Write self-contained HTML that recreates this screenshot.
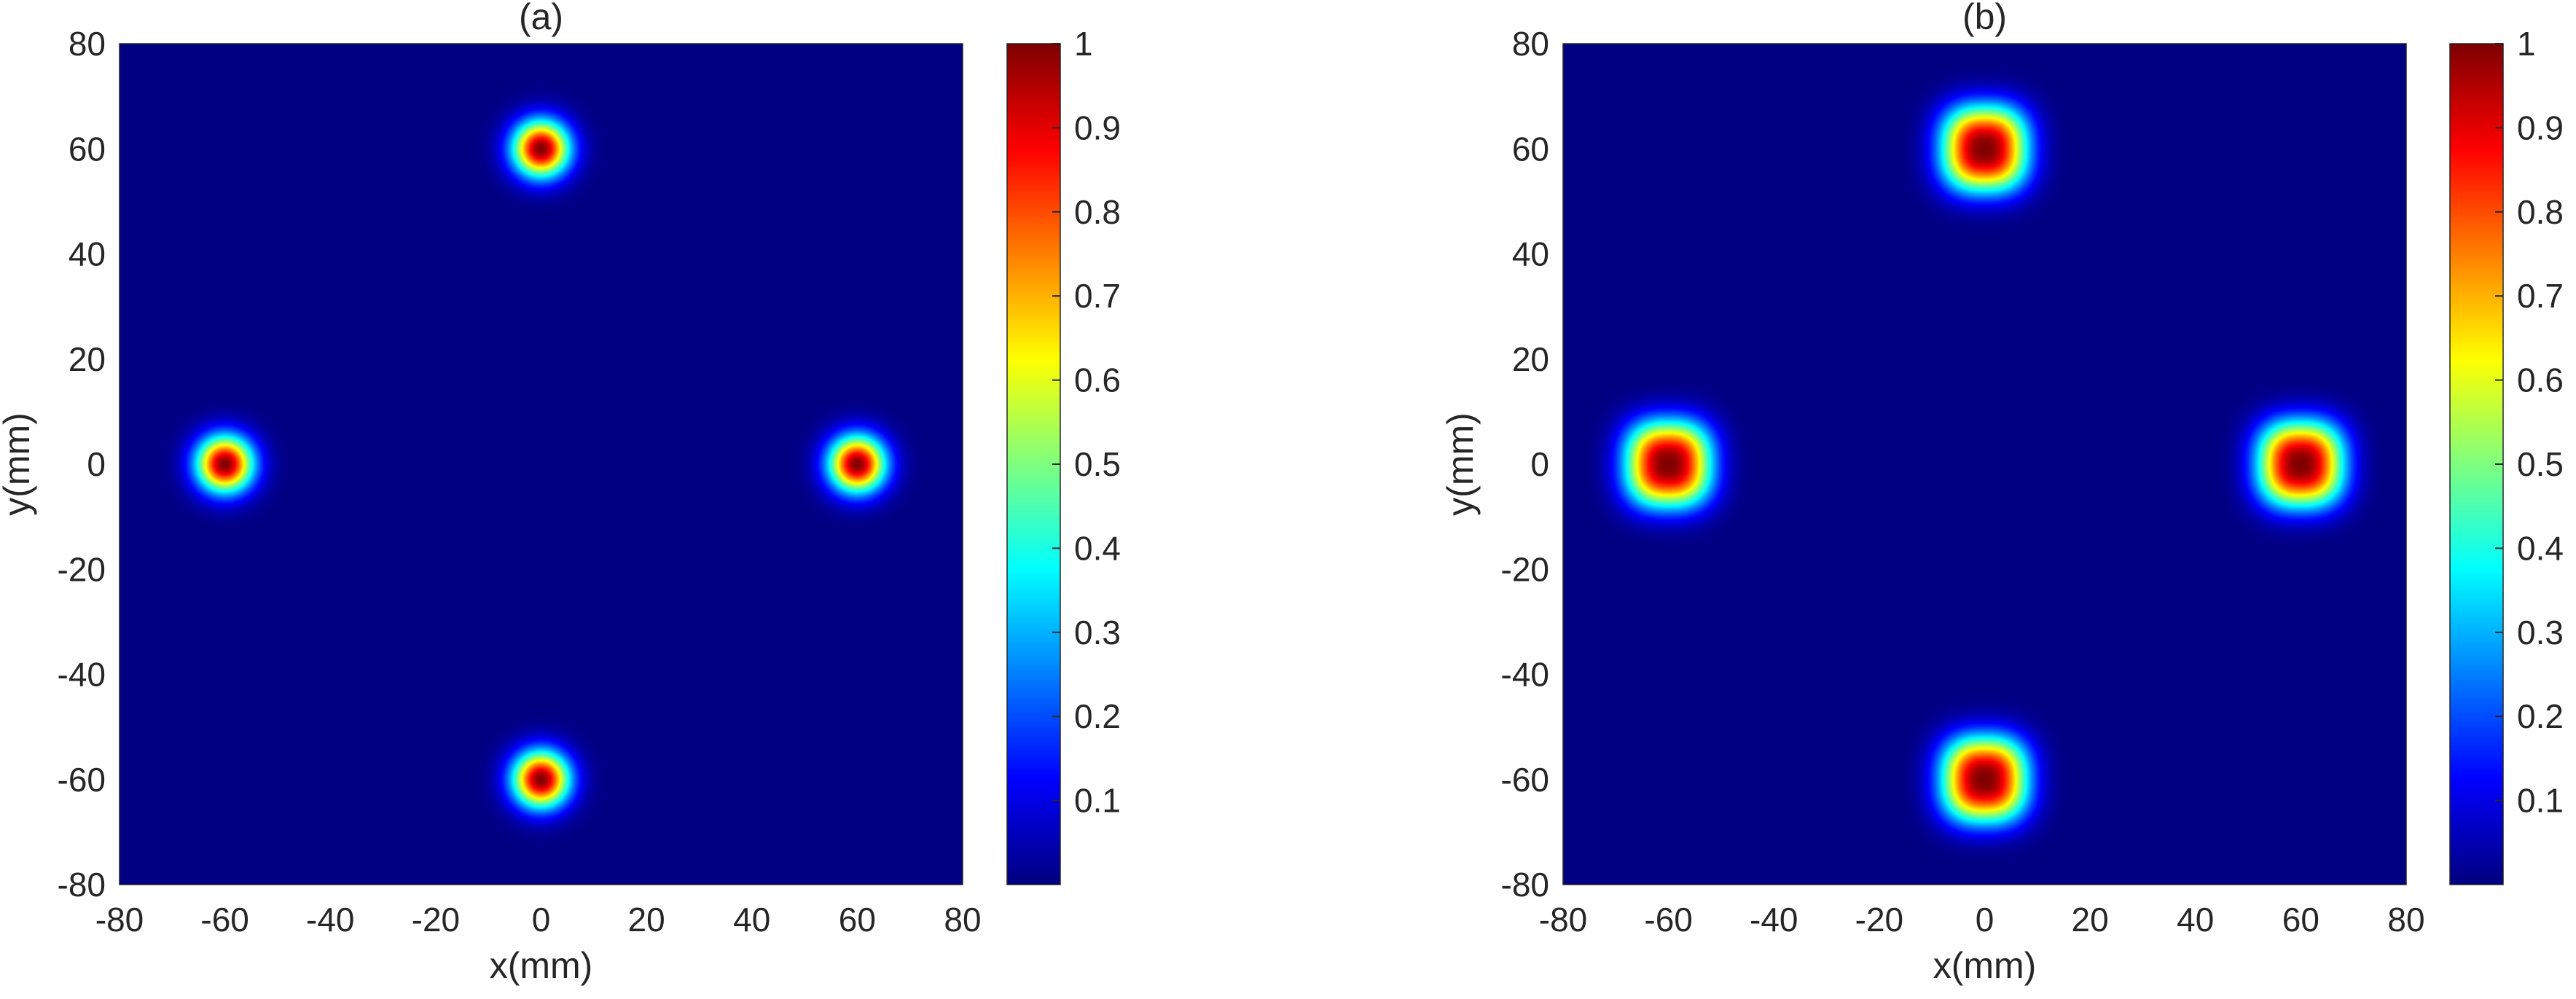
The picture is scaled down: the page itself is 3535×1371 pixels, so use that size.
<!DOCTYPE html>
<html><head><meta charset="utf-8"><style>
html,body{margin:0;padding:0;background:#fff;}
#wrap{position:relative;width:3535px;height:1371px;overflow:hidden;font-family:"Liberation Sans",Arial,sans-serif;}
canvas{position:absolute;}
svg{position:absolute;left:0;top:0;}
text{fill:#262626;font-family:"Liberation Sans",Arial,sans-serif;}
</style></head><body>
<div id="wrap">
<canvas id="ca" width="1157" height="1154" style="left:164px;top:60px"></canvas>
<canvas id="cb" width="1157" height="1154" style="left:2145px;top:60px"></canvas>
<canvas id="cba" width="73" height="1154" style="left:1382px;top:60px"></canvas>
<canvas id="cbb" width="73" height="1154" style="left:3362px;top:60px"></canvas>
<svg id="svg" width="3535" height="1371"></svg>
</div>
<script>
// data
const spotX = [0, -60, 60, 0];
const spotY = [60, 0, 0, -60];
const widthA = 5.3;      // gaussian width (mm) panel a
const widthB = 8.0;      // super-gaussian width (mm) panel b
const orderB = 2.5;
const axisTicks = [-80,-60,-40,-20,0,20,40,60,80];
const cbTicks = [0.1,0.2,0.3,0.4,0.5,0.6,0.7,0.8,0.9,1];
const cbTickLabels = ["0.1","0.2","0.3","0.4","0.5","0.6","0.7","0.8","0.9","1"];

const PW=1157, PH=1154, TOP=60, BOT=1214;
const panels=[{id:'ca',left:164,cb:'cba',cbl:1382,title:'(a)'},{id:'cb',left:2145,cb:'cbb',cbl:3362,title:'(b)'}];

function jet(v){
  v=Math.max(0,Math.min(1,v));
  const r=Math.max(0,Math.min(1,1.5-Math.abs(4*v-3)));
  const g=Math.max(0,Math.min(1,1.5-Math.abs(4*v-2)));
  const b=Math.max(0,Math.min(1,1.5-Math.abs(4*v-1)));
  return [r*255,g*255,b*255];
}
function fA(x,y){let s=0;for(let i=0;i<spotX.length;i++){const dx=x-spotX[i],dy=y-spotY[i];s+=Math.exp(-(dx*dx+dy*dy)/(widthA*widthA));}return s;}
function fB(x,y){let s=0;for(let i=0;i<spotX.length;i++){const dx=Math.abs(x-spotX[i])/widthB,dy=Math.abs(y-spotY[i])/widthB;s+=Math.exp(-(Math.pow(dx,orderB)+Math.pow(dy,orderB)));}return s;}
function xs(v,left){return left+(v+80)/160*PW;}
function ys(v){return TOP+(80-v)/160*PH;}

[['ca',fA],['cb',fB]].forEach(([id,f])=>{
  const c=document.getElementById(id),ctx=c.getContext('2d');
  const im=ctx.createImageData(PW,PH);
  for(let j=0;j<PH;j++){const y=80-(j+0.5)/PH*160;
    for(let i=0;i<PW;i++){const x=-80+(i+0.5)/PW*160;
      const col=jet(f(x,y));const k=(j*PW+i)*4;
      im.data[k]=col[0];im.data[k+1]=col[1];im.data[k+2]=col[2];im.data[k+3]=255;}}
  ctx.putImageData(im,0,0);
});
['cba','cbb'].forEach(id=>{
  const c=document.getElementById(id),ctx=c.getContext('2d');
  for(let j=0;j<PH;j++){const col=jet(1-(j+0.5)/PH);ctx.fillStyle=`rgb(${col[0]|0},${col[1]|0},${col[2]|0})`;ctx.fillRect(0,j,73,1);}
});

const svg=document.getElementById('svg');const NS='http://www.w3.org/2000/svg';
function mk(tag,attrs,txt){const e=document.createElementNS(NS,tag);for(const k in attrs)e.setAttribute(k,attrs[k]);if(txt!==undefined)e.textContent=txt;svg.appendChild(e);return e;}
panels.forEach((p,pi)=>{
  const fr=mk('rect',{x:p.left,y:TOP,width:PW,height:PH,fill:'none',stroke:'#262626','stroke-width':1.5});
  
  
  axisTicks.forEach(t=>{
    const tx=mk('text',{x:xs(t,p.left),y:1278,'font-size':46,'text-anchor':'middle'},String(t));
    
    
    const ty=mk('text',{x:p.left-19,y:ys(t)+16,'font-size':46,'text-anchor':'end'},String(t));
    
    
  });
  const xt=mk('text',{x:p.left+PW/2,y:1342,'font-size':50,'text-anchor':'middle'},'x(mm)');
  
  
  const yx=p.left-124, yy=(TOP+BOT)/2;
  const yt=mk('text',{x:yx,y:yy,'font-size':50,'text-anchor':'middle',transform:`rotate(-90 ${yx} ${yy})`},'y(mm)');
  
  
  const tt=mk('text',{x:p.left+PW/2,y:40,'font-size':50,'text-anchor':'middle'},p.title);
  
  
  const cf=mk('rect',{x:p.cbl,y:TOP,width:73,height:PH,fill:'none',stroke:'#262626','stroke-width':1.5});
  
  
  cbTicks.forEach((t,i)=>{
    const y=BOT-t*PH;
    const tl=mk('line',{x1:p.cbl+73-11,x2:p.cbl+73,y1:y,y2:y,stroke:'#262626','stroke-width':2});
    
    
    const lab=mk('text',{x:p.cbl+92,y:y+16,'font-size':46},cbTickLabels[i]);
    
    
  });
});
</script>
</body></html>
